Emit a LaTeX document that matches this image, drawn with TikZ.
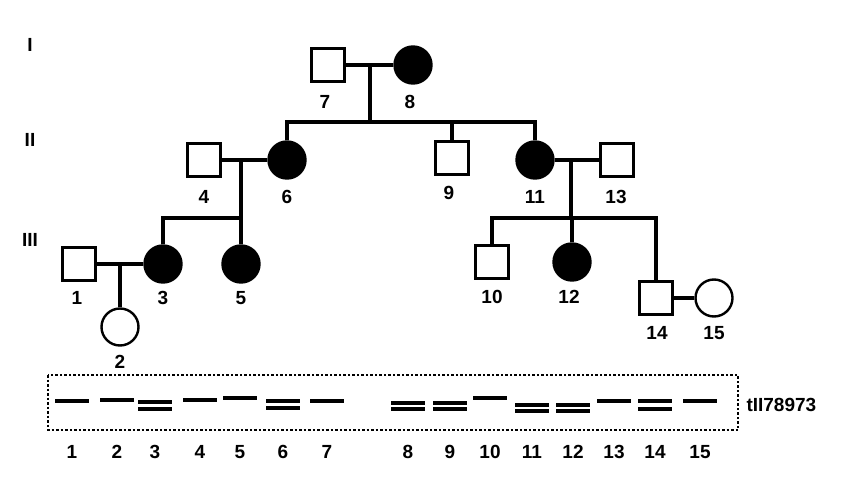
\documentclass[tikz,border=0pt]{standalone}
\usepackage{fontspec}
\setmainfont{Liberation Sans}
\begin{document}
\begin{tikzpicture}[x=1pt,y=-1pt,
 sq/.style={draw,line width=2.4pt,minimum size=33pt,inner sep=0pt},
 ci/.style={draw,circle,line width=2.4pt,minimum size=37pt,inner sep=0pt},
 af/.style={ci,fill=black},
 lab/.style={font=\fontsize{19}{19}\selectfont\bfseries},
 ln/.style={line width=3.2pt},
 band/.style={line width=3.8pt}]
\useasboundingbox (0,0) rectangle (849,486);
\node[lab] (gI) at (30,45) {I};
\node[lab] (gII) at (30,140) {II};
\node[lab] (gIII) at (30,240) {III};
% gen I
\node[sq] (p7) at (328,65) {};
\node[af] (p8) at (413,65) {};
\draw[ln] (p7) -- (p8);
\coordinate (m78) at (370,65);
\coordinate (h1) at (370,122);
\draw[ln] (m78) -- (h1);
\node[af] (p6) at (287,160) {};
\node[sq] (p9) at (452,158) {};
\node[af] (p11) at (535,160) {};
\draw[ln] (p6.north) |- (h1) -| (p11.north);
\draw[ln] (p9.north) -- (p9.north |- h1);
\node[lab] at (325,102) {7};
\node[lab] at (410,102) {8};
% gen II left
\node[sq] (p4) at (204,160) {};
\draw[ln] (p4) -- (p6);
\coordinate (m46) at (241,160);
\coordinate (h2) at (241,218);
\draw[ln] (m46) -- (h2);
\node[af] (p3) at (163,264) {};
\node[af] (p5) at (241,264) {};
\draw[ln] (p3.north) |- (h2) -- (p5.north);
\node[lab] at (204,197) {4};
\node[lab] at (287,197) {6};
\node[lab] at (449,193) {9};
\node[lab] at (535,197) {11};
\node[lab] at (616,197) {13};
% gen II right
\node[sq] (p13) at (617,160) {};
\draw[ln] (p11) -- (p13);
\coordinate (m1113) at (571,160);
\coordinate (h3) at (571,218);
\draw[ln] (m1113) -- (h3);
\node[sq] (p10) at (492,262) {};
\node[af] (p12) at (572,262) {};
\node[sq] (p14) at (656,298) {};
\node[ci] (p15) at (714,298) {};
\draw[ln] (p10.north) |- (h3) -| (p14.north);
\draw[ln] (p12.north) -- (p12.north |- h3);
\draw[ln] (p14) -- (p15);
% gen III left
\node[sq] (p1) at (79,264) {};
\draw[ln] (p1) -- (p3);
\coordinate (m13) at (120,264);
\node[ci] (p2) at (120,327) {};
\draw[ln] (m13) -- (p2.north);
\node[lab] at (77,298) {1};
\node[lab] at (163,298) {3};
\node[lab] at (241,298) {5};
\node[lab] at (492,297) {10};
\node[lab] at (569,297) {12};
\node[lab] at (657,333) {14};
\node[lab] at (714,333) {15};
\node[lab] at (120,362) {2};
% gel
\draw[line width=1.1pt,dash pattern=on 2.5pt off 2pt] (48,375) rectangle (738,430);
\node[lab,anchor=west] at (743,405) {tII78973};
\foreach \x/\n/\a/\b in {72/1/401/0,117/2/400/0,155/3/402/409,200/4/400/0,240/5/398/0,283/6/401/408,327/7/401/0,408/8/403/409,450/9/403/409,490/10/398/0,532/11/405/411,573/12/405/411,614/13/401/0,655/14/401/409,700/15/401/0}{
  \draw[band] (\x-17,\a) -- (\x+17,\a);
  \ifnum\b>0 \draw[band] (\x-17,\b) -- (\x+17,\b); \fi
  \node[lab] at (\x,452) {\n};
}
\end{tikzpicture}
\end{document}
